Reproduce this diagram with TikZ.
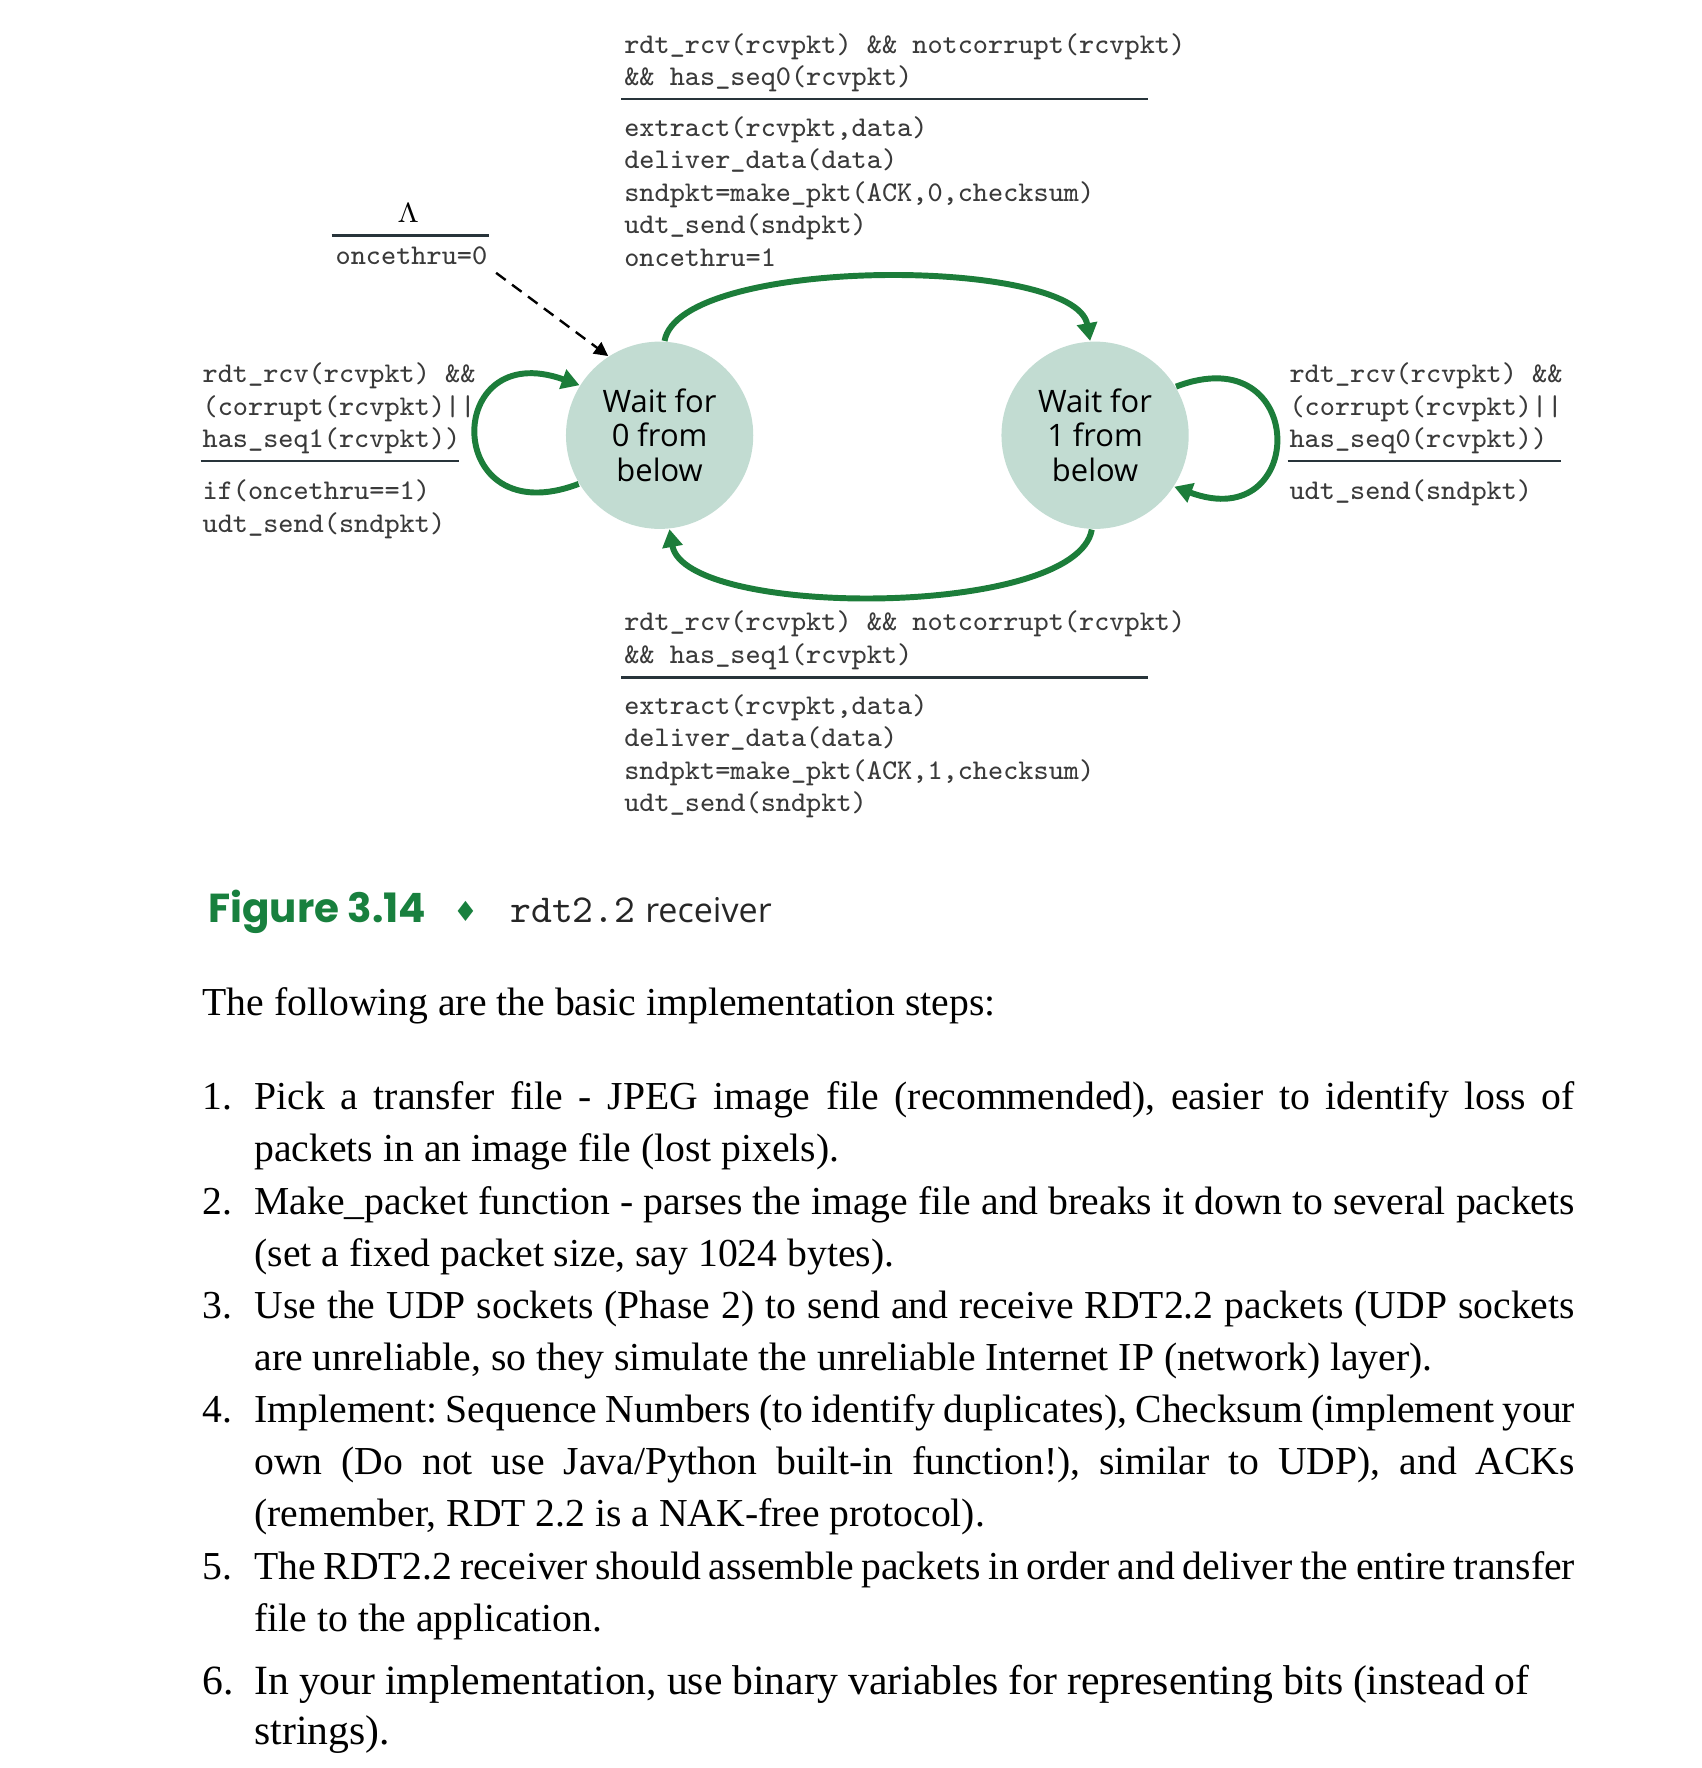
\documentclass[tikz,border=0pt]{standalone}
\usepackage{fontspec}
\setmainfont{Liberation Serif}
\newfontfamily\statefont{Open Sans}
\newfontfamily\figfont{Poppins}
\newfontfamily\symfont{DejaVu Sans}
\usepackage{xcolor}
\usepackage{tikz}
\usetikzlibrary{arrows.meta, positioning}

\definecolor{waitfill}{RGB}{194,220,210}
\definecolor{arcgreen}{RGB}{28,125,58}
\definecolor{figgreen}{RGB}{24,128,62}
\definecolor{codegray}{RGB}{58,58,58}
\definecolor{rulegray}{RGB}{40,52,58}

\newcommand{\tightspace}{\frenchspacing\spaceskip=2.5pt plus 1.5pt minus 1.1pt\relax}

\begin{document}
\begin{tikzpicture}[x=0.01cm, y=-0.01cm, on grid,
    wait/.style={circle, fill=waitfill, minimum size=1.66cm, inner sep=0pt, align=center,
      font=\statefont\fontsize{7.8}{8.6}\selectfont},
    code/.style={anchor=base west, inner sep=0pt, align=left, text=codegray,
      font=\ttfamily\fontsize{7.2}{8.18}\selectfont},
    guardline/.style={draw=rulegray, line width=0.6pt},
    trans/.style={draw=arcgreen, line width=1.5pt, -{Triangle[length=4.5pt,width=5pt]}},
    startarrow/.style={draw=black, line width=0.6pt, dash pattern=on 3pt off 2pt,
      -{Triangle[length=3.5pt,width=3.5pt]}},
    num/.style={anchor=base west, inner sep=0pt, font=\fontsize{10}{13.1}\selectfont},
    stepitem/.style={anchor=base west, inner sep=0pt, text width=333pt, align=justify,
      font=\fontsize{10}{13.1}\selectfont, execute at begin node=\tightspace}]
    \useasboundingbox (0,0) rectangle (1509,1568);

    % states
    \node[wait] (w0) at (585,386) {Wait for\\0 from\\below};
    \node[wait] (w1) [right=3.86cm of w0] {Wait for\\1 from\\below};

    % top transition (base = last line)
    \node[code] (g0) at (553,76) {rdt\_rcv(rcvpkt) \&\& notcorrupt(rcvpkt)\\\&\& has\_seq0(rcvpkt)};
    \draw[guardline] (551,88) -- (1018,88);
    \node[code] (a0) at (553,236) {extract(rcvpkt,data)\\deliver\_data(data)\\sndpkt=make\_pkt(ACK,0,checksum)\\udt\_send(sndpkt)\\oncethru=1};

    % initial
    \node[anchor=base, inner sep=0pt, font=\fontsize{7}{8}\selectfont] (lam) at (362,197) {$\Lambda$};
    \draw[guardline] (294,209) -- (434,209);
    \node[code] (once) at (297,235) {oncethru=0};
    \coordinate (init) at (440,242);

    % left loop
    \node[code] (gl) at (179,397) {rdt\_rcv(rcvpkt) \&\&\\(corrupt(rcvpkt)||\\has\_seq1(rcvpkt))};
    \draw[guardline] (178,409) -- (407,409);
    \node[code] (al) at (179,472) {if(oncethru==1)\\udt\_send(sndpkt)};

    % right loop
    \node[code] (gr) at (1143,397) {rdt\_rcv(rcvpkt) \&\&\\(corrupt(rcvpkt)||\\has\_seq0(rcvpkt))};
    \draw[guardline] (1142,409) -- (1384,409);
    \node[code] (ar) at (1143,443) {udt\_send(sndpkt)};

    % bottom transition
    \node[code] (gb) at (553,588) {rdt\_rcv(rcvpkt) \&\& notcorrupt(rcvpkt)\\\&\& has\_seq1(rcvpkt)};
    \draw[guardline] (551,601) -- (1018,601);
    \node[code] (ab) at (553,720) {extract(rcvpkt,data)\\deliver\_data(data)\\sndpkt=make\_pkt(ACK,1,checksum)\\udt\_send(sndpkt)};

    % transitions
    \draw[startarrow] (init) -- (w0.123);
    \draw[trans] (w0.87) to[out=80, in=100, looseness=0.52] (w1.93);
    \draw[trans] (w1.-92) to[out=-100, in=-80, looseness=0.55] (w0.-84);
    \draw[trans] (w0.211) .. controls +(-121,46) and +(-122,-44) .. (w0.148);
    \draw[trans] (w1.31) .. controls +(118,-45) and +(119,44) .. (w1.-33);

    % caption
    \node[anchor=base west, inner sep=0pt, text=figgreen, font=\figfont\bfseries\fontsize{10.2}{12}\selectfont] (fig) at (184,818) {Figure 3.14};
    \node[inner sep=0pt, text=figgreen, font=\symfont\fontsize{7}{8}\selectfont] (dia) at (413,808) {♦};
    \node[anchor=base west, inner sep=0pt, text=black!85] (cap) at (452,818) {{\ttfamily\fontsize{10}{10}\selectfont rdt2.2} {\statefont\fontsize{8.6}{10}\selectfont receiver}};

    % text
    \node[num] (intro) at (179,901) {The following are the basic implementation steps:};

    \node[num] (n1) at (179,984) {1.};
    \node[stepitem] (t1) at (225,984) {Pick a transfer file - JPEG image file (recommended), easier to identify loss of\linebreak packets in an image file (lost pixels).};
    \node[num] (n2) at (179,1077) {2.};
    \node[stepitem] (t2) at (225,1077) {Make\_packet function - parses the image file and breaks it down to several packets\linebreak (set a fixed packet size, say 1024 bytes).};
    \node[num] (n3) at (179,1169) {3.};
    \node[stepitem] (t3) at (225,1169) {Use the UDP sockets (Phase 2) to send and receive RDT2.2 packets (UDP sockets\linebreak are unreliable, so they simulate the unreliable Internet IP (network) layer).};
    \node[num] (n4) at (179,1262) {4.};
    \node[stepitem] (t4) at (225,1262) {Implement: Sequence Numbers (to identify duplicates), Checksum (implement your\linebreak own (Do not use Java/Python built-in function!), similar to UDP), and ACKs\linebreak (remember, RDT 2.2 is a NAK-free protocol).};
    \node[num] (n5) at (179,1401) {5.};
    \node[stepitem] (t5) at (225,1401) {The RDT2.2 receiver should assemble packets in order and deliver the entire transfer\linebreak file to the application.};
    \node[num, font=\fontsize{10.5}{12.6}\selectfont] (n6) at (179,1503) {6.};
    \node[stepitem, font=\fontsize{10.5}{12.6}\selectfont] (t6) at (225,1503) {In your implementation, use binary variables for representing bits (instead of\\strings).};
\end{tikzpicture}
\end{document}
